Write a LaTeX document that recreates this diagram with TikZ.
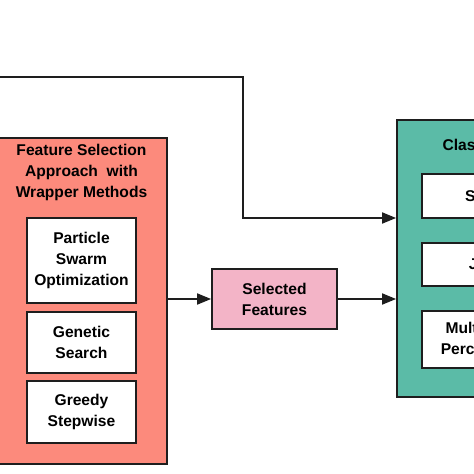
\documentclass[tikz,border=0pt]{standalone}
\usepackage{fontspec}
\setmainfont{Liberation Sans}
\usetikzlibrary{arrows.meta}
\definecolor{salmon}{RGB}{252,138,124}
\definecolor{rose}{RGB}{243,180,199}
\definecolor{teal}{RGB}{91,187,167}
\definecolor{edge}{RGB}{30,30,30}
\tikzset{
  box/.style={draw=edge, line width=1.8pt, inner sep=0pt, align=center,
    font=\fontsize{15.6}{21}\selectfont\bfseries},
  inbox/.style={box, fill=white},
  link/.style={draw=edge, line width=1.8pt, -{Triangle[length=14pt,width=11pt]}}
}
\begin{document}
\begin{tikzpicture}[x=1pt,y=-1pt]
    \useasboundingbox (0,0) rectangle (474,474);
    % left group
    \node[box, fill=salmon, minimum width=171pt, minimum height=326pt] (fs) at (81.5,301) {};
    \node[align=center, font=\fontsize{15.6}{21}\selectfont\bfseries] (fstitle) at (81.5,172)
        {Feature Selection\\Approach \ with\\Wrapper Methods};
    \node[inbox, minimum width=109pt, minimum height=85pt] (pso) at (81.5,260.5) {Particle\\Swarm\\Optimization};
    \node[inbox, minimum width=109pt, minimum height=61pt] (gen) at (81.5,342.5) {Genetic\\Search};
    \node[inbox, minimum width=109pt, minimum height=62pt] (greedy) at (81.5,412) {Greedy\\Stepwise};
    % middle
    \node[box, fill=rose, minimum width=125pt, minimum height=60pt] (sel) at (274.5,299) {Selected\\Features};
    % right group
    \node[box, fill=teal, minimum width=170pt, minimum height=277pt] (cls) at (482,258.5) {};
    \node[font=\fontsize{15.6}{21}\selectfont\bfseries] (clstitle) at (482,145) {Classifiers};
    \node[inbox, minimum width=120pt, minimum height=44pt] (svm) at (482,196) {SVM};
    \node[inbox, minimum width=120pt, minimum height=43pt] (jtree) at (482,264.5) {J48};
    \node[inbox, minimum width=120pt, minimum height=57pt] (mlp) at (482,339.5) {Multilayer\\Perceptron};
    % connectors
    \coordinate (src) at (-10,77);
    \coordinate (bend) at (243,77);
    \draw[link] (src) -- (bend) |- (cls.west |- 0,218);
    \draw[link] (fs.east |- sel.west) -- (sel.west);
    \draw[link] (sel.east) -- (cls.west |- sel.east);
\end{tikzpicture}
\end{document}
